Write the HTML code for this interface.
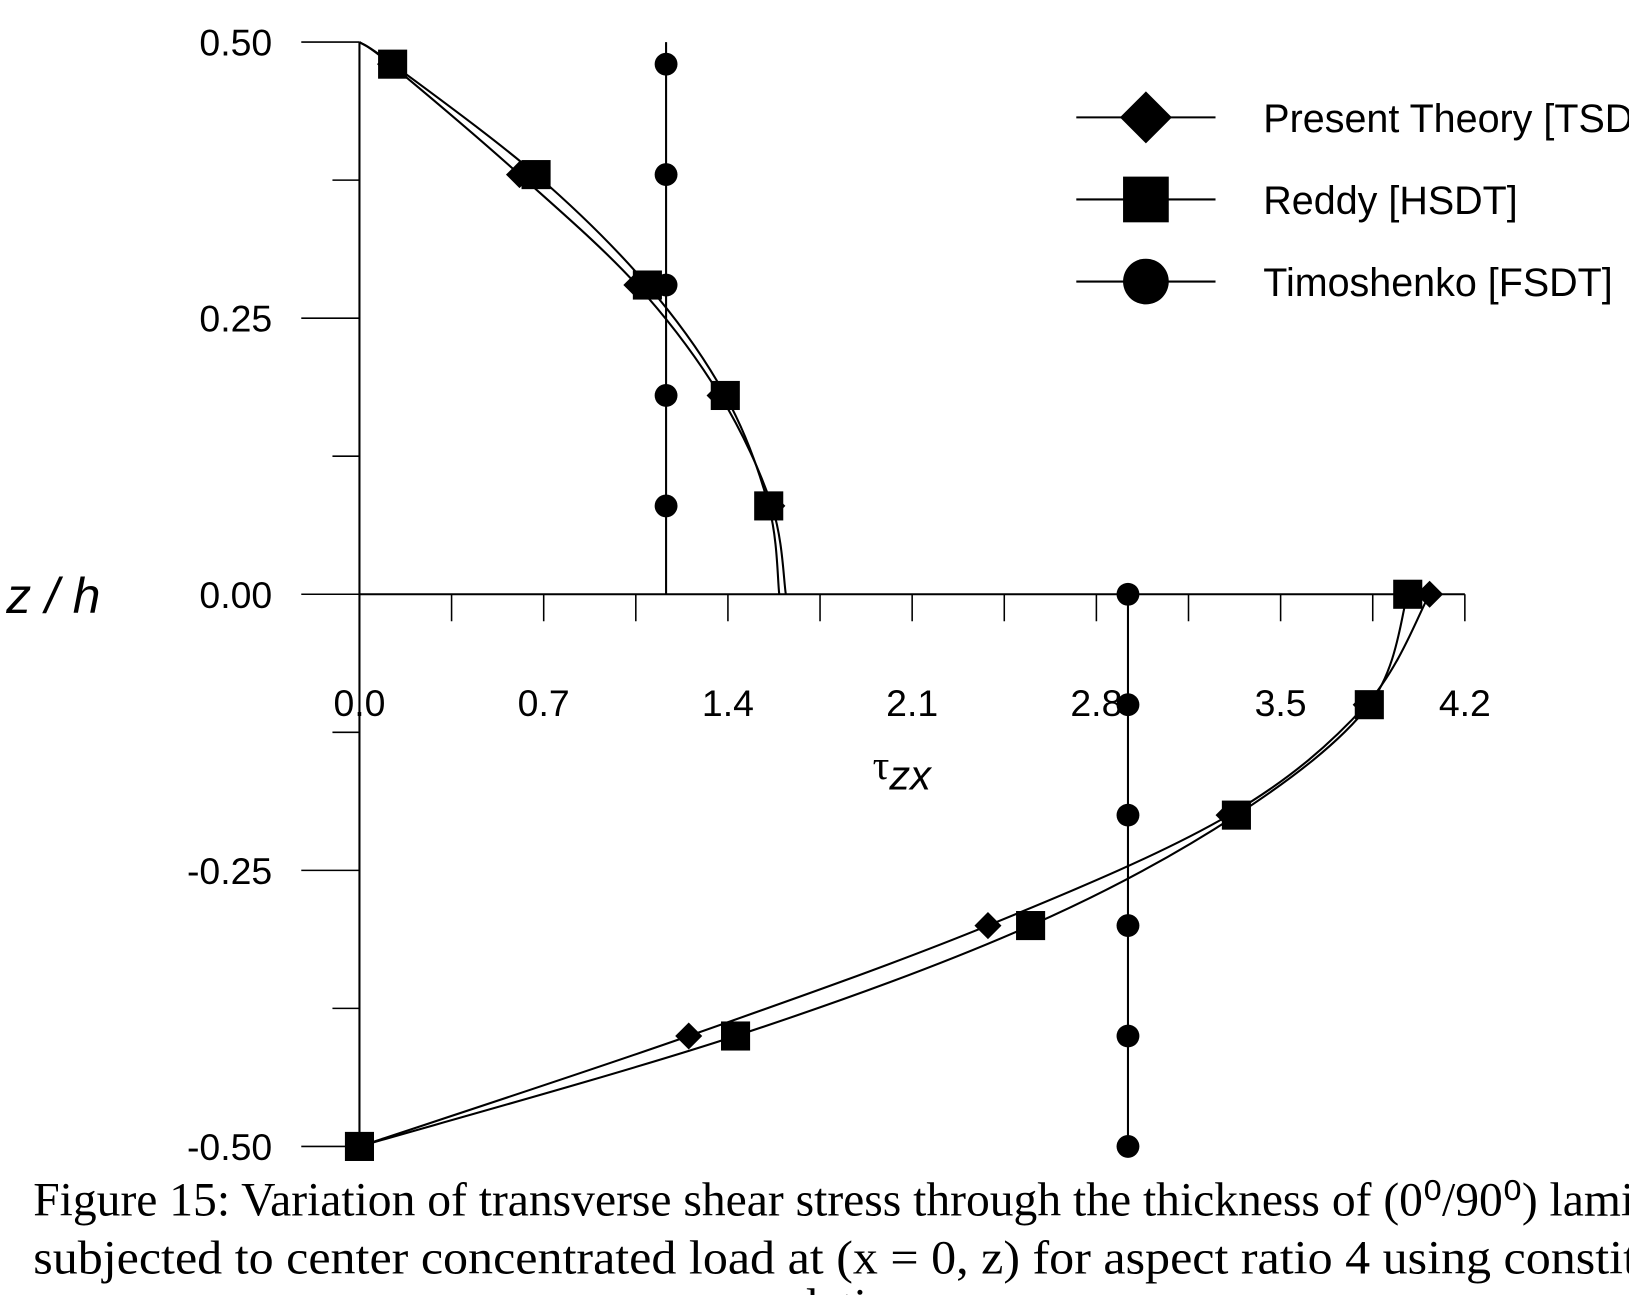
<!DOCTYPE html>
<html><head><meta charset="utf-8"><style>
body{margin:0;background:#fff;width:1629px;height:1295px;overflow:hidden}
svg{display:block}
</style></head><body>
<svg id="chart" width="1629" height="1295" viewBox="0 0 1568 1246.5" preserveAspectRatio="none" font-family="'Liberation Sans', sans-serif">
<g id="axes"></g><g id="series"></g>
<g>
 <line x1="1036" y1="113" x2="1170" y2="113" stroke="#000" stroke-width="2"/>
 <polygon points="1103,88 1128,113 1103,138 1078,113" fill="#000"/>
 <text x="1216" y="127" font-size="38">Present Theory [TSDT]</text>
 <line x1="1036" y1="192" x2="1170" y2="192" stroke="#000" stroke-width="2"/>
 <rect x="1081" y="170" width="44" height="44" fill="#000"/>
 <text x="1216" y="206" font-size="38">Reddy [HSDT]</text>
 <line x1="1036" y1="271" x2="1170" y2="271" stroke="#000" stroke-width="2"/>
 <circle cx="1103" cy="271" r="22" fill="#000"/>
 <text x="1216" y="285" font-size="38">Timoshenko [FSDT]</text>
</g>
<text x="6" y="590" font-size="48" font-style="italic">z / h</text>
<text x="840" y="750" font-size="40" font-family="'Liberation Serif', serif">τ<tspan font-family="'Liberation Sans', sans-serif" font-style="italic" dy="10">zx</tspan></text>
<g font-family="'Liberation Serif', serif" font-size="46">
 <text x="32" y="1170" textLength="1640" lengthAdjust="spacingAndGlyphs">Figure 15: Variation of transverse shear stress through the thickness of (0⁰/90⁰) laminated</text>
 <text x="32" y="1226" textLength="1640" lengthAdjust="spacingAndGlyphs">subjected to center concentrated load at (x = 0, z) for aspect ratio 4 using constitutive</text>
 <text x="740" y="1272">relations</text>
</g>
</svg>
<script>
const xTicks=["0.0","0.7","1.4","2.1","2.8","3.5","4.2"];
const yTicks=[0.5,0.25,0,-0.25,-0.5];
const zTop=[0.5,0.48,0.38,0.28,0.18,0.08,0];
const zBot=[0,-0.1,-0.2,-0.3,-0.4,-0.5];
const presentTop=[0,0.118,0.608,1.054,1.37,1.567,1.62];
const presentBot=[4.066,3.825,3.304,2.388,1.251,0];
const reddyTop=[0,0.126,0.671,1.094,1.39,1.555,1.595];
const reddyBot=[3.983,3.837,3.332,2.55,1.429,0];
const timoTopZ=[0.48,0.38,0.28,0.18,0.08];
const timoTop=1.165;
const timoBotZ=[0,-0.1,-0.2,-0.3,-0.4,-0.5];
const timoBot=2.92;
const X=v=>346+v*(1064/4.2), Y=z=>572-z*1063;
const NS="http://www.w3.org/2000/svg";
function mk(t,a,p){const e=document.createElementNS(NS,t);for(const k in a)e.setAttribute(k,a[k]);p.appendChild(e);return e;}
const ax=document.getElementById('axes'), se=document.getElementById('series');
let e=mk('line',{x1:346,y1:41,x2:346,y2:1104,stroke:'#000','stroke-width':2},ax);


e=mk('line',{x1:346,y1:572,x2:1410,y2:572,stroke:'#000','stroke-width':2},ax);


for(let i=0;i<=12;i++){const v=i*0.35;mk('line',{x1:X(v),y1:572,x2:X(v),y2:598,stroke:'#000','stroke-width':1.5},ax);}
xTicks.forEach(t=>{const l=mk('text',{x:X(+t),y:689,'font-size':36,'text-anchor':'middle'},ax);l.textContent=t;

});
for(let i=0;i<=8;i++){const z=0.5-i*0.125;const maj=i%2==0;mk('line',{x1:maj?290:320,y1:Y(z),x2:346,y2:Y(z),stroke:'#000','stroke-width':1.5},ax);}
yTicks.forEach(z=>{const l=mk('text',{x:262,y:Y(z)+13,'font-size':36,'text-anchor':'end'},ax);l.textContent=z.toFixed(2);

});
function curve(xs,zs,name){const p=xs.map((v,i)=>[X(v),Y(zs[i])]);let d='M'+p[0];
for(let i=0;i<p.length-1;i++){const p0=p[i-1]||p[i],p1=p[i],p2=p[i+1],p3=p[i+2]||p2;
d+=' C'+[p1[0]+(p2[0]-p0[0])/6,p1[1]+(p2[1]-p0[1])/6]+' '+[p2[0]-(p3[0]-p1[0])/6,p2[1]-(p3[1]-p1[1])/6]+' '+p2;}
const c=mk('path',{d:d,fill:'none',stroke:'#000','stroke-width':2},se);

}
curve(presentTop,zTop,'present-curve-top');curve(presentBot,zBot,'present-curve-bottom');
curve(reddyTop,zTop,'reddy-curve-top');curve(reddyBot,zBot,'reddy-curve-bottom');
e=mk('line',{x1:X(timoTop),y1:Y(0.5),x2:X(timoTop),y2:572,stroke:'#000','stroke-width':2},se);


e=mk('line',{x1:X(timoBot),y1:572,x2:X(timoBot),y2:Y(-0.5),stroke:'#000','stroke-width':2},se);


function diamond(v,z){const x=X(v),y=Y(z);const m=mk('polygon',{points:`${x},${y-13} ${x+13},${y} ${x},${y+13} ${x-13},${y}`,fill:'#000'},se);

}
function square(v,z){const m=mk('rect',{x:X(v)-14,y:Y(z)-14,width:28,height:28,fill:'#000'},se);

}
function circ(v,z){const m=mk('circle',{cx:X(v),cy:Y(z),r:11,fill:'#000'},se);

}
for(let i=1;i<zTop.length-1;i++){diamond(presentTop[i],zTop[i]);square(reddyTop[i],zTop[i]);}
for(let i=0;i<zBot.length;i++){diamond(presentBot[i],zBot[i]);square(reddyBot[i],zBot[i]);}
timoTopZ.forEach(z=>circ(timoTop,z));timoBotZ.forEach(z=>circ(timoBot,z));
</script>
</body></html>
